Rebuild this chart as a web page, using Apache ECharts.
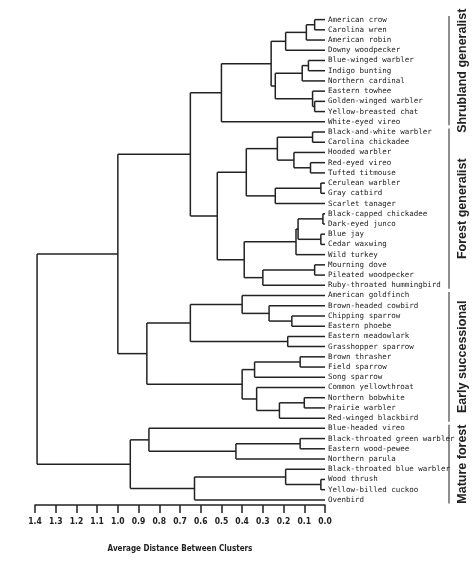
<!DOCTYPE html>
<html>
<head>
<meta charset="utf-8">
<script src="https://cdn.jsdelivr.net/npm/echarts@6/dist/echarts.min.js"></script>
<style>
  html, body { margin: 0; padding: 0; background: #fff; }
  #chart { width: 474px; height: 586px; }
</style>
</head>
<body>
<div id="chart"></div>
<script>
// leaves, top to bottom
const leaves = [
  'American crow', 'Carolina wren', 'American robin', 'Downy woodpecker',
  'Blue-winged warbler', 'Indigo bunting', 'Northern cardinal', 'Eastern towhee',
  'Golden-winged warbler', 'Yellow-breasted chat', 'White-eyed vireo',
  'Black-and-white warbler', 'Carolina chickadee', 'Hooded warbler', 'Red-eyed vireo',
  'Tufted titmouse', 'Cerulean warbler', 'Gray catbird', 'Scarlet tanager',
  'Black-capped chickadee', 'Dark-eyed junco', 'Blue jay', 'Cedar waxwing',
  'Wild turkey', 'Mourning dove', 'Pileated woodpecker', 'Ruby-throated hummingbird',
  'American goldfinch', 'Brown-headed cowbird', 'Chipping sparrow', 'Eastern phoebe',
  'Eastern meadowlark', 'Grasshopper sparrow', 'Brown thrasher', 'Field sparrow',
  'Song sparrow', 'Common yellowthroat', 'Northern bobwhite', 'Prairie warbler',
  'Red-winged blackbird', 'Blue-headed vireo', 'Black-throated green warbler',
  'Eastern wood-pewee', 'Northern parula', 'Black-throated blue warbler',
  'Wood thrush', 'Yellow-billed cuckoo', 'Ovenbird'
];

// merges: [name, left, right, distance]; numbers are leaf indexes
const merges = [
  ['A', 0, 1, 0.05], ['B', 'A', 2, 0.09], ['C', 'B', 3, 0.19],
  ['D', 4, 5, 0.08], ['E', 'D', 6, 0.11], ['F', 8, 9, 0.05], ['G', 7, 'F', 0.06],
  ['H', 'E', 'G', 0.24], ['I', 'C', 'H', 0.26], ['J', 'I', 10, 0.50],
  ['K', 11, 12, 0.06], ['L', 14, 15, 0.07], ['M', 13, 'L', 0.15], ['N', 'K', 'M', 0.23],
  ['O', 16, 17, 0.02], ['P', 'O', 18, 0.24], ['Q', 'N', 'P', 0.38],
  ['R', 19, 20, 0.01], ['S', 21, 22, 0.02], ['T', 'R', 'S', 0.13], ['U', 'T', 23, 0.14],
  ['V', 24, 25, 0.05], ['W', 'V', 26, 0.30], ['X', 'U', 'W', 0.39],
  ['Y', 'Q', 'X', 0.52], ['Z', 'J', 'Y', 0.65],
  ['AA', 29, 30, 0.16], ['AB', 28, 'AA', 0.27], ['AC', 27, 'AB', 0.40],
  ['AD', 31, 32, 0.18], ['AE', 'AC', 'AD', 0.65],
  ['AF', 33, 34, 0.12], ['AG', 'AF', 35, 0.34], ['AH', 37, 38, 0.10],
  ['AI', 'AH', 39, 0.22], ['AJ', 36, 'AI', 0.33], ['AK', 'AG', 'AJ', 0.40],
  ['AL', 'AE', 'AK', 0.86], ['AM', 'Z', 'AL', 1.00],
  ['AN', 41, 42, 0.12], ['AO', 'AN', 43, 0.43], ['AP', 40, 'AO', 0.85],
  ['AQ', 45, 46, 0.02], ['AR', 44, 'AQ', 0.19], ['AS', 'AR', 47, 0.63],
  ['AT', 'AP', 'AS', 0.94], ['ROOT', 'AM', 'AT', 1.39]
];

// groups: [label, first leaf, last leaf]
const groups = [
  ['Shrubland generalist', 0, 10],
  ['Forest generalist', 11, 26],
  ['Early successional', 27, 39],
  ['Mature forest', 40, 47]
];

// build segments from the merge list
let nodes = {};
function node(k) {
  if (typeof k === 'number') return { x: 0, y: k };
  return nodes[k];
}
let segs = [];
merges.forEach(([name, l, r, h]) => {
  let a = node(l), b = node(r);
  segs.push([a.x, a.y, h, a.y]);
  segs.push([b.x, b.y, h, b.y]);
  segs.push([h, a.y, h, b.y]);
  nodes[name] = { x: h, y: (a.y + b.y) / 2 };
});

let myChart = echarts.init(document.getElementById('chart'));
const ink = '#222';

myChart.setOption({
  animation: false,
  grid: { left: 35, right: 149, top: 14.5, bottom: 81 },
  xAxis: {
    type: 'value', min: 0, max: 1.4, interval: 0.1, inverse: true, position: 'bottom',
    name: 'Average Distance Between Clusters',
    nameLocation: 'middle', nameGap: 40,
    nameTextStyle: { fontFamily: 'DejaVu Sans Condensed', fontWeight: 'bold', fontSize: 8, color: ink },
    axisLine: { onZero: false, lineStyle: { color: ink, width: 1.5 } },
    axisTick: { length: 8, lineStyle: { color: ink, width: 1.5 } },
    axisLabel: {
      margin: 12, fontFamily: 'DejaVu Sans Condensed', fontWeight: 'bold', fontSize: 8.5, color: ink,
      formatter: v => v.toFixed(1)
    },
    splitLine: { show: false }
  },
  yAxis: [{
    type: 'value', min: -0.5, max: leaves.length - 0.5, inverse: true, show: false
  }, {
    type: 'category', data: leaves, inverse: true, position: 'right',
    axisLine: { show: false }, axisTick: { show: false },
    axisLabel: { margin: 3, fontFamily: 'DejaVu Sans Mono', fontSize: 7.5, color: ink, interval: 0 }
  }],
  series: [{
    type: 'custom',
    yAxisIndex: 0,
    data: segs,
    renderItem: function (params, api) {
      let p1 = api.coord([api.value(0), api.value(1)]);
      let p2 = api.coord([api.value(2), api.value(3)]);
      return {
        type: 'line',
        shape: { x1: p1[0], y1: p1[1], x2: p2[0], y2: p2[1] },
        style: { stroke: ink, lineWidth: 1.5 }
      };
    }
  }]
});

// group brackets on the right
let graphics = [];
groups.forEach(([label, a, b]) => {
  let y1 = myChart.convertToPixel({ yAxisIndex: 0 }, a - 0.35);
  let y2 = myChart.convertToPixel({ yAxisIndex: 0 }, b + 0.35);
  graphics.push({
    type: 'line', shape: { x1: 449, y1: y1, x2: 449, y2: y2 },
    style: { stroke: '#444', lineWidth: 1.2 }
  });
  graphics.push({
    type: 'text', x: 463, y: (y1 + y2) / 2, rotation: Math.PI / 2,
    style: { text: label, font: 'bold 12.5px "Liberation Sans", Arial', fill: ink, align: 'center', verticalAlign: 'middle' }
  });
});
myChart.setOption({ graphic: graphics });
</script>
</body>
</html>
